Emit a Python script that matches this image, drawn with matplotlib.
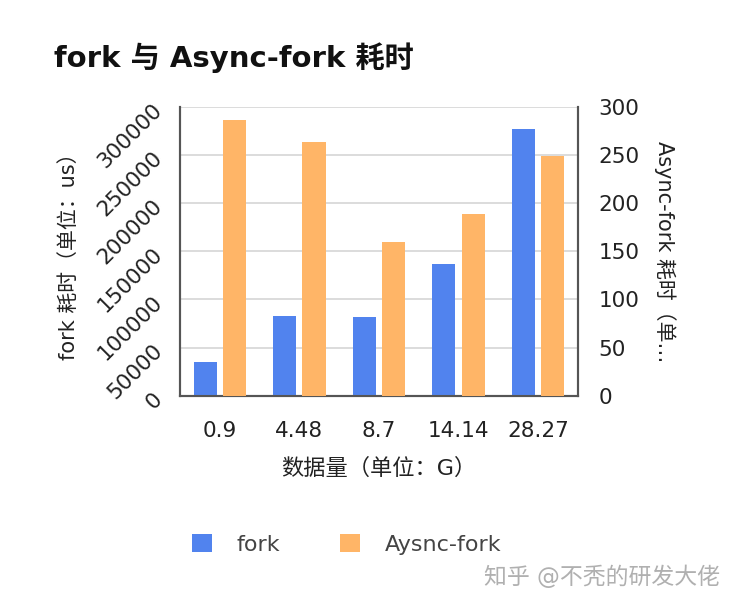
import numpy as np
import matplotlib.pyplot as plt
from matplotlib.patches import Patch

plt.rcParams['font.family'] = ['DejaVu Sans', 'Noto Sans CJK SC']

categories = ['0.9', '4.48', '8.7', '14.14', '28.27']
fork_us = [35600, 82600, 81600, 137200, 276800]
async_fork = [286, 263.6, 159.6, 188.7, 248.8]

blue = '#5183EE'
orange = '#FFB567'
text_c = '#222222'

fig = plt.figure(figsize=(7.38, 6.08), dpi=100)
ax = fig.add_axes([0.244, 0.349, 0.539, 0.4755])
ax2 = ax.twinx()

x = np.arange(len(categories))
w = 0.29
ax.bar(x - 0.183, fork_us, w, color=blue, zorder=3)
ax2.bar(x + 0.183, async_fork, w, color=orange, zorder=3)

ax.set_xlim(-0.5, 4.5)
ax.set_ylim(0, 300000)
ax2.set_ylim(0, 300)
ax.set_yticks(np.arange(0, 300001, 50000))
ax2.set_yticks(np.arange(0, 301, 50))
ax.set_xticks(x)
ax.set_xticklabels(categories)

ax.grid(axis='y', color='#d9d9d9', linewidth=1.3, zorder=0)
ax.set_axisbelow(True)

for a in (ax, ax2):
    a.spines['top'].set_visible(False)
    for s in ('left', 'right', 'bottom'):
        a.spines[s].set_color('#555555')
        a.spines[s].set_linewidth(1.5)

ax.tick_params(axis='both', length=0, labelsize=15.5, colors=text_c)
ax.tick_params(axis='x', pad=18)
ax.tick_params(axis='y', pad=15)
for lab in ax.get_yticklabels():
    lab.set_rotation(45)
    lab.set_rotation_mode('anchor')
    lab.set_ha('right')
    lab.set_va('center')
ax2.tick_params(axis='y', length=0, labelsize=15.5, colors=text_c, pad=15)

ax.set_xlabel('数据量（单位：G）', fontsize=16, color=text_c, labelpad=12)
ax.yaxis.set_label_coords(-0.255, 0.5)
ax.set_ylabel('fork 耗时（单位：us）', fontsize=15, color=text_c)
ax2.set_ylabel('Async-fork 耗时（单…', fontsize=15, color=text_c,
               rotation=-90, va='center')
ax2.yaxis.set_label_coords(1.22, 0.5)

fig.text(0.073, 0.905, 'fork 与 Async-fork 耗时', fontsize=21,
         fontweight='bold', color='#111111', va='center')

handles = [Patch(facecolor=blue, edgecolor='none'),
           Patch(facecolor=orange, edgecolor='none')]
fig.legend(handles, ['fork', 'Aysnc-fork'], loc='center',
           bbox_to_anchor=(0.47, 0.105), ncol=2, frameon=False,
           fontsize=16, handlelength=0.9, handleheight=0.9,
           columnspacing=2.7, handletextpad=1.1,
           labelcolor='#444444')

fig.text(0.975, 0.05, '知乎 @不秃的研发大佬', fontsize=16.5, color='#b0b0b0',
         ha='right', va='center')

fig.savefig('out.png', dpi=100)
